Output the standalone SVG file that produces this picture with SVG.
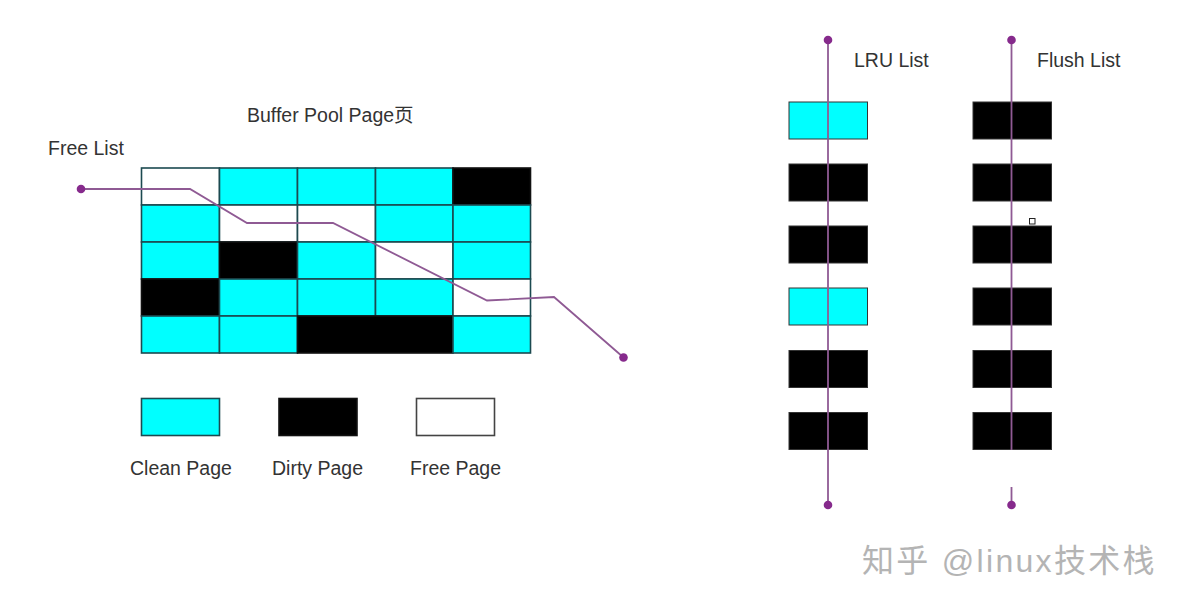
<svg xmlns="http://www.w3.org/2000/svg" width="1190" height="608" viewBox="0 0 1190 608">
<style>
text{font-family:"Liberation Sans","Noto Sans CJK SC",sans-serif;font-size:19.5px;fill:#333}
.c{fill:#00ffff}.k{fill:#000}.w{fill:#fff}
.g rect{stroke:#1c4a50;stroke-width:1.6}
.g rect.k{stroke:#111}
.b rect{stroke:#333;stroke-width:1}
.l{fill:none;stroke:#8f5a94;stroke-width:1.8}
.d{fill:#862a8c}
</style>
<rect width="1190" height="608" fill="#fff"/>
<g id="buffer-pool" class="g">
<rect class="w" x="141.5" y="168" width="78" height="37"/><rect class="c" x="219.5" y="168" width="78" height="37"/><rect class="c" x="297.5" y="168" width="78" height="37"/><rect class="c" x="375.5" y="168" width="77.5" height="37"/><rect class="k" x="453" y="168" width="77.5" height="37"/>
<rect class="c" x="141.5" y="205" width="78" height="37"/><rect class="w" x="219.5" y="205" width="78" height="37"/><rect class="w" x="297.5" y="205" width="78" height="37"/><rect class="c" x="375.5" y="205" width="77.5" height="37"/><rect class="c" x="453" y="205" width="77.5" height="37"/>
<rect class="c" x="141.5" y="242" width="78" height="37"/><rect class="k" x="219.5" y="242" width="78" height="37"/><rect class="c" x="297.5" y="242" width="78" height="37"/><rect class="w" x="375.5" y="242" width="77.5" height="37"/><rect class="c" x="453" y="242" width="77.5" height="37"/>
<rect class="k" x="141.5" y="279" width="78" height="37"/><rect class="c" x="219.5" y="279" width="78" height="37"/><rect class="c" x="297.5" y="279" width="78" height="37"/><rect class="c" x="375.5" y="279" width="77.5" height="37"/><rect class="w" x="453" y="279" width="77.5" height="37"/>
<rect class="c" x="141.5" y="316" width="78" height="37"/><rect class="c" x="219.5" y="316" width="78" height="37"/><rect class="k" x="297.5" y="316" width="155.5" height="37"/><rect class="c" x="453" y="316" width="77.5" height="37"/>
</g>
<g id="titles">
<text x="247" y="122">Buffer Pool Page页</text>
<text x="48" y="155">Free List</text>
<text x="854" y="67">LRU List</text>
<text x="1037" y="67">Flush List</text>
</g>
<g id="legend" class="g">
<rect class="c" x="141.5" y="398.500" width="78" height="37"/>
<rect class="k" x="279" y="398.500" width="78" height="37"/>
<rect class="w" x="416.500" y="398.500" width="78" height="37" style="stroke:#444"/>
<text x="130" y="475">Clean Page</text>
<text x="272" y="475">Dirty Page</text>
<text x="410" y="475">Free Page</text>
</g>
<g id="lru-list" class="b">
<rect class="c" x="789" y="102" width="78.500" height="37"/>
<rect class="k" x="789" y="164" width="78.500" height="37"/>
<rect class="k" x="789" y="226" width="78.500" height="37"/>
<rect class="c" x="789" y="288" width="78.500" height="37"/>
<rect class="k" x="789" y="350.500" width="78.500" height="37"/>
<rect class="k" x="789" y="412.500" width="78.500" height="37"/>
</g>
<g id="flush-list" class="b">
<rect class="k" x="973" y="102" width="78.500" height="37"/>
<rect class="k" x="973" y="164" width="78.500" height="37"/>
<rect class="k" x="973" y="226" width="78.500" height="37"/>
<rect class="k" x="973" y="288" width="78.500" height="37"/>
<rect class="k" x="973" y="350.500" width="78.500" height="37"/>
<rect class="k" x="973" y="412.500" width="78.500" height="37"/>
</g>
<g id="connectors">
<polyline class="l" points="81,189 190,189 247,223 333,223 487,300.500 554,297 623,357"/>
<path class="l" d="M828 40V505"/>
<path class="l" d="M1011.500 40V450M1011.500 487V505"/>
<circle class="d" cx="81" cy="189" r="4.300"/><circle class="d" cx="623.500" cy="357.500" r="4.300"/>
<circle class="d" cx="828" cy="40" r="4.300"/><circle class="d" cx="828" cy="505" r="4.300"/>
<circle class="d" cx="1011.500" cy="40" r="4.300"/><circle class="d" cx="1011.500" cy="505" r="4.300"/>
</g>
<rect id="marker" x="1029.500" y="218.500" width="5.500" height="5.500" fill="#fff" stroke="#222" stroke-width="1"/>
<text id="watermark" x="862" y="572" style="font-size:32px;letter-spacing:2.3px;fill:#b4b4b4">知乎 @linux技术栈</text>
</svg>
